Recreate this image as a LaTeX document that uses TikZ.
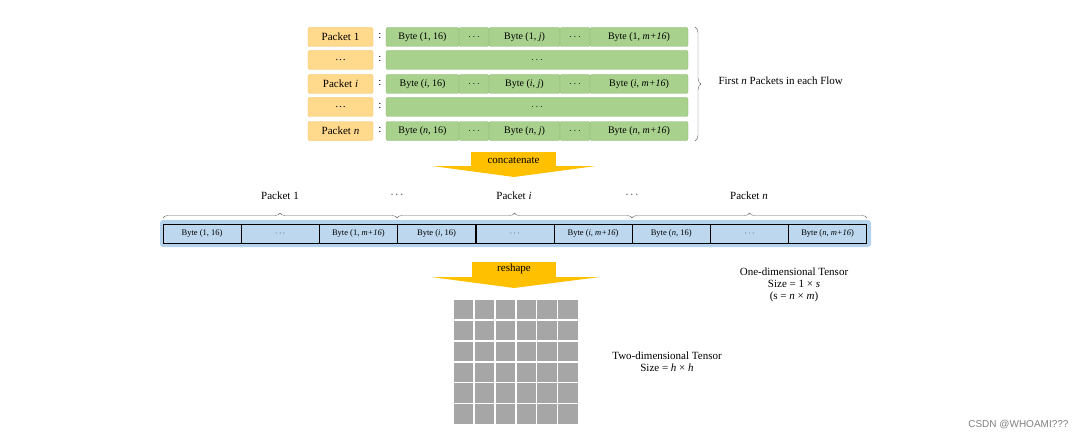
\documentclass[tikz,border=0pt]{standalone}
\usepackage{fontspec}
\setmainfont{Liberation Serif}
\newfontfamily\wmfont{Liberation Sans}
\usetikzlibrary{decorations.pathreplacing}
\definecolor{pkfill}{HTML}{FFD98C}
\definecolor{pkdraw}{HTML}{F5C060}
\definecolor{grfill}{HTML}{A9D18E}
\definecolor{grdraw}{HTML}{8DB872}
\definecolor{blfill}{HTML}{BDD7EE}
\definecolor{bgfill}{HTML}{B4D2EC}
\definecolor{arrfill}{HTML}{FFC000}
\begin{document}
\begin{tikzpicture}[x=1pt,y=-1pt,
 pk/.style={draw=pkdraw,fill=pkfill,rounded corners=2pt,minimum width=65pt,minimum height=19pt,inner sep=0pt,font=\fontsize{11}{12}\selectfont},
 gr/.style={draw=grdraw,fill=grfill,rounded corners=2pt,minimum height=19pt,inner sep=0pt,font=\fontsize{10}{12}\selectfont},
 bl/.style={draw=black,fill=blfill,minimum height=19pt,inner sep=0pt,font=\fontsize{8.5}{10}\selectfont,minimum width=78pt},
 lab/.style={font=\fontsize{11}{13}\selectfont,align=center},
 arr/.style={fill=arrfill,draw=none},
 brc/.style={decorate,decoration={brace,amplitude=5pt},draw=black!60}]
\useasboundingbox (0,0) rectangle (1083,441);
% top rows
\foreach \y/\t/\r in {37/{Packet 1}/1,60/{\dots}/2,84/{Packet \textit{i}}/3,107/{\dots}/4,131/{Packet \textit{n}}/5}{
 \node[pk] (p\r) at (340.5,\y) {\t};
 \node[lab] (c\r) at (380,{\y-1}) {:};}
\foreach \y/\v/\r in {37/1/1,84/{\textit{i}}/3,131/{\textit{n}}/5}{
 \node[gr,minimum width=73pt] (a\r) at (422.5,\y) {Byte (\v, 16)};
 \node[gr,minimum width=30pt] (b\r) at (474,\y) {$\cdots$};
 \node[gr,minimum width=71pt] (d\r) at (524.5,\y) {Byte (\v, \textit{j})};
 \node[gr,minimum width=30pt] (e\r) at (575,\y) {$\cdots$};
 \node[gr,minimum width=98pt] (f\r) at (639,\y) {Byte (\v, \textit{m+16})};}
\node[gr,minimum width=302pt] (g2) at (537,60) {$\cdots$};
\node[gr,minimum width=302pt] (g4) at (537,107) {$\cdots$};
\coordinate (bt) at (695,27); \coordinate (bb) at (695,141);
\draw[brc,decoration={brace,amplitude=6pt,mirror}] (bb) -- (bt);
\node[lab,anchor=west] (first) at (715,81) {First \textit{n} Packets in each Flow};
% concatenate arrow
\path[arr] (471,152) rectangle (556,167);
\path[arr] (432,166) -- (596,166) -- (514,177) -- cycle;
\node[lab] (cat) at (513.5,160) {concatenate};
% middle tensor
\node[fill=bgfill,rounded corners=3pt,minimum width=711pt,minimum height=27pt,inner sep=0pt] (bg) at (515.5,233.5) {};
\foreach \i/\t in {0/{Byte (1, 16)},1/{$\cdots$},2/{Byte (1, \textit{m+16})},3/{Byte (\textit{i}, 16)},4/{$\cdots$},5/{Byte (\textit{i}, \textit{m+16})},6/{Byte (\textit{n}, 16)},7/{$\cdots$},8/{Byte (\textit{n}, \textit{m+16})}}{
 \node[bl] (m\i) at ({163+39+78.2*\i},233.5) {\t};}
\foreach \a/\b/\x/\t in {163/397/280/{Packet 1},397/632/514/{Packet \textit{i}},632/867/749/{Packet \textit{n}}}{
 \coordinate (l\a) at (\a,218); \coordinate (r\a) at (\b,218);
 \draw[brc] (l\a) -- (r\a);
 \node[lab] (pl\a) at (\x,196) {\t};}
\node[lab] (dd1) at (397,195) {$\cdots$};
\node[lab] (dd2) at (632,195) {$\cdots$};
% reshape arrow
\path[arr] (472,262) rectangle (556,278);
\path[arr] (431,277) -- (600,277) -- (514,288) -- cycle;
\node[lab] (rs) at (514,269) {reshape};
\node[lab] (one) at (794,285) {One-dimensional Tensor\\[-1pt]Size = 1 × \textit{s}\\[-1pt](s = \textit{n} × \textit{m})};
% grid
\foreach \i in {0,...,5}{\foreach \j in {0,...,5}{
 \fill[black!35] ({453+20.9*\i+0.8},{299+20.9*\j+0.8}) rectangle +(19.3,19.3);}}
\node[lab] (two) at (667,362) {Two-dimensional Tensor\\[-1pt]Size = \textit{h} × \textit{h}};
\node[font=\wmfont\fontsize{10}{12}\selectfont,text=black!50,anchor=east] (wm) at (1072,425) {CSDN @WHOAMI???};
\end{tikzpicture}
\end{document}
